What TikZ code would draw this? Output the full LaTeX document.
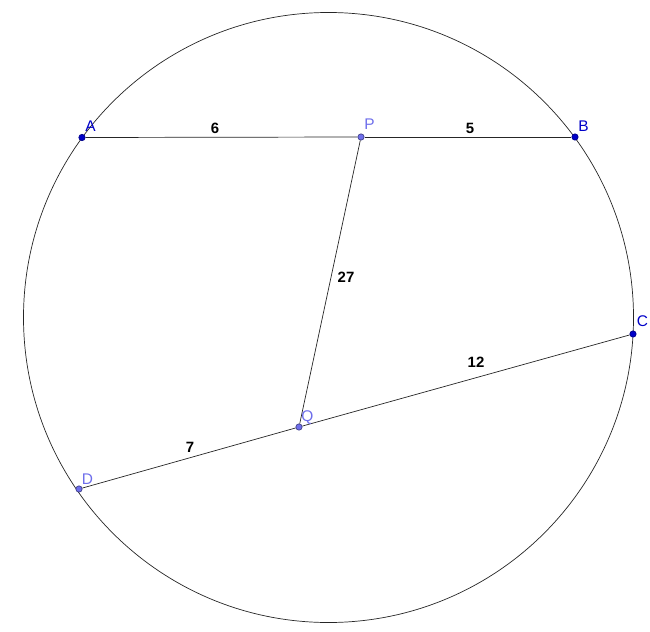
\documentclass[tikz,border=0pt]{standalone}
\usepackage{fontspec}
\setmainfont{Liberation Sans}
\definecolor{freeblue}{RGB}{0,0,200}
\definecolor{depblue}{RGB}{110,110,235}
\begin{document}
\begin{tikzpicture}[
        freept/.style={circle, fill=freeblue, draw=freeblue!70!black, inner sep=0pt, minimum size=3.6pt},
        deppt/.style={circle, fill=depblue, draw=depblue!60!black, inner sep=0pt, minimum size=3.6pt},
        seg/.style={black!85, line width=0.4pt},
        ptlabel/.style={font=\fontsize{8.8}{10}\selectfont},
        len/.style={font=\fontsize{8.5}{10}\selectfont\bfseries}
    ]
    \useasboundingbox (0,0) rectangle (13,-12.62);
    % Circle
    \draw[seg] (6.57,-6.35) circle (6.10);
    % Nodes
    \node[freept] (A) at (1.64, -2.75) {};
    \node[deppt] (P) at (7.22, -2.74) {};
    \node[freept] (B) at (11.50, -2.74) {};
    \node[freept] (C) at (12.66, -6.68) {};
    \node[deppt] (Q) at (5.98, -8.54) {};
    \node[deppt] (D) at (1.58, -9.78) {};
    % Edges
    \draw[seg] (A) -- (P);
    \draw[seg] (P) -- (B);
    \draw[seg] (P) -- (Q);
    \draw[seg] (D) -- (Q);
    \draw[seg] (Q) -- (C);
    % Point labels
    \node[ptlabel, text=freeblue] (labA) at (1.81, -2.53) {A};
    \node[ptlabel, text=depblue] (labP) at (7.39, -2.49) {P};
    \node[ptlabel, text=freeblue] (labB) at (11.67, -2.53) {B};
    \node[ptlabel, text=freeblue] (labC) at (12.85, -6.43) {C};
    \node[ptlabel, text=depblue] (labQ) at (6.15, -8.35) {Q};
    \node[ptlabel, text=depblue] (labD) at (1.75, -9.59) {D};
    % Lengths
    \node[len] (lAP) at (4.30, -2.56) {6};
    \node[len] (lPB) at (9.40, -2.56) {5};
    \node[len] (lPQ) at (6.92, -5.54) {27};
    \node[len] (lQC) at (9.52, -7.24) {12};
    \node[len] (lDQ) at (3.80, -8.94) {7};
\end{tikzpicture}
\end{document}
